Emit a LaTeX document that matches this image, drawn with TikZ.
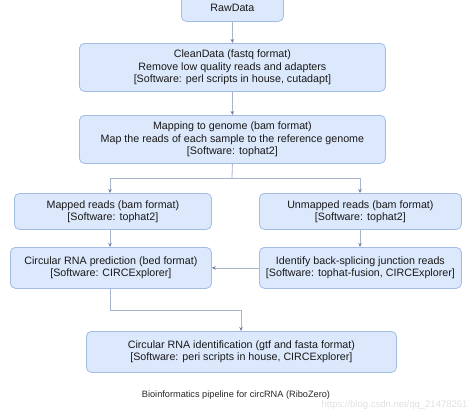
\documentclass[tikz,border=0pt]{standalone}
\usepackage{fontspec}
\setmainfont{Liberation Sans}
\usetikzlibrary{arrows.meta}
\definecolor{boxfill}{HTML}{DCE8FB}
\definecolor{boxline}{HTML}{A3BCE6}
\definecolor{conn}{HTML}{A8B4CC}
\definecolor{tipc}{HTML}{6F7FA0}
\begin{document}
\begin{tikzpicture}[x=1pt,y=-1pt,
  stepbox/.style={draw=boxline,fill=boxfill,rounded corners=5pt,line width=0.8pt,
    align=center,font=\fontsize{10.7}{12.3}\selectfont,text=black!90,inner sep=0pt,anchor=north west},
  conn/.style={draw=conn,line width=0.8pt,-{Stealth[length=4pt,width=3.5pt,color=tipc,fill=tipc]}},
  plain/.style={draw=conn,line width=0.8pt}]
\useasboundingbox (0,0) rectangle (474,416);
\node[stepbox,minimum width=102pt,minimum height=28pt] (raw) at (181,-7) {\raisebox{-4pt}{RawData}};
\node[stepbox,minimum width=306pt,minimum height=48pt] (clean) at (79,43)
  {CleanData (fastq format)\\Remove low quality reads and adapters\\{}[Software: perl scripts in house, cutadapt]};
\node[stepbox,minimum width=306pt,minimum height=48pt] (map) at (79,115)
  {Mapping to genome (bam format)\\Map the reads of each sample to the reference genome\\{}[Software: tophat2]};
\node[stepbox,minimum width=197pt,minimum height=36pt] (mapped) at (14,193)
  {Mapped reads (bam format)\\{}[Software: tophat2]};
\node[stepbox,minimum width=202pt,minimum height=36pt] (unmapped) at (259,193)
  {Unmapped reads (bam format)\\{}[Software: tophat2]};
\node[stepbox,minimum width=201pt,minimum height=41pt] (pred) at (10,247)
  {Circular RNA prediction (bed format)\\{}[Software: CIRCExplorer]};
\node[stepbox,minimum width=202pt,minimum height=41pt] (ident) at (259,247)
  {Identify back-splicing junction reads\\{}[Software: tophat-fusion, CIRCExplorer]};
\node[stepbox,minimum width=310pt,minimum height=41pt] (final) at (86,331)
  {Circular RNA identification (gtf and fasta format)\\{}[Software: peri scripts in house, CIRCExplorer]};
\node[font=\fontsize{9.2}{11}\selectfont,text=black!85] (cap) at (236,395) {Bioinformatics pipeline for circRNA (RiboZero)};
\node[font=\fontsize{9.5}{11}\selectfont,text=black!12,anchor=east] (wm) at (471,405) {https://blog.csdn.net/qq\_21478261};
\coordinate (split) at (232,178);
\coordinate (join) at (110,310);
\coordinate (lx) at (110,0);
\coordinate (rx) at (360,0);
\coordinate (fx) at (241,0);
\draw[conn] (raw.south) -- (clean.north);
\draw[conn] (clean.south) -- (map.north);
\draw[plain] (map.south) -- (split);
\draw[conn] (split) -| (mapped.north -| lx);
\draw[conn] (split) -| (unmapped.north -| rx);
\draw[conn] (mapped.south -| lx) -- (pred.north -| lx);
\draw[conn] (unmapped.south -| rx) -- (ident.north -| rx);
\draw[conn] (ident.west) -- (pred.east);
\draw[plain] (pred.south -| join) -- (join);
\draw[conn] (join) -| (final.north -| fx);
\end{tikzpicture}
\end{document}
